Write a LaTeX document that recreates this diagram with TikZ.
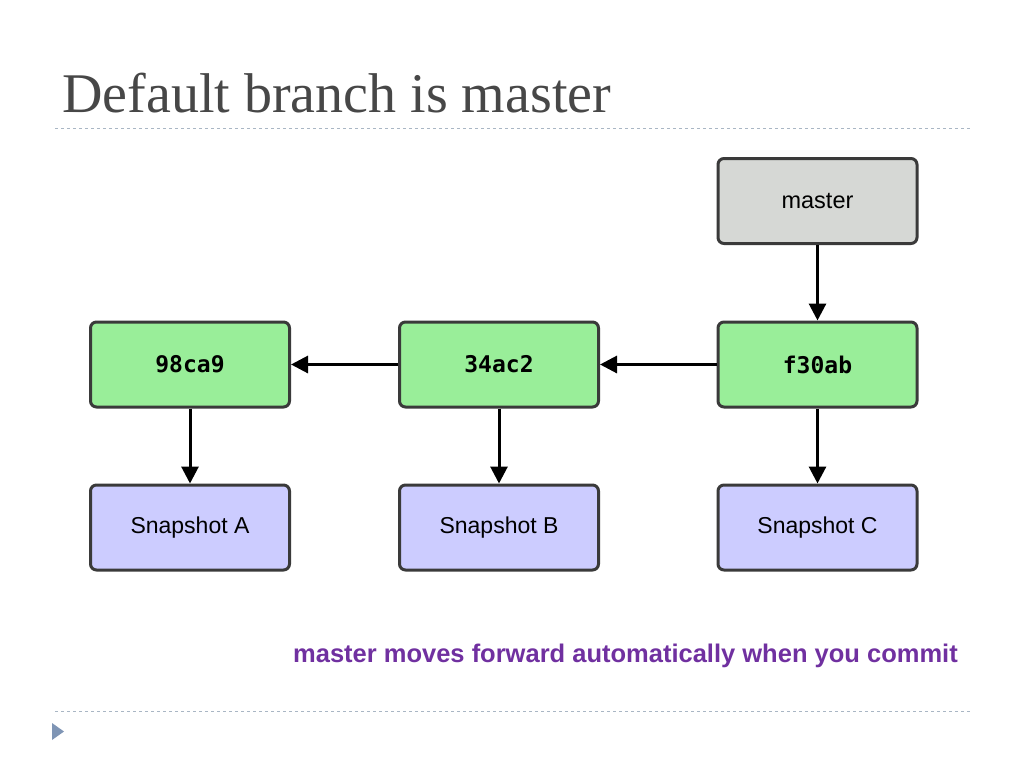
\documentclass[tikz,border=0pt]{standalone}
\usepackage{fontspec}
\setmainfont{Liberation Serif}
\newfontfamily\sansf{Liberation Sans}
\newfontfamily\monof{DejaVu Sans Mono}
\usetikzlibrary{arrows.meta}
\definecolor{gfill}{HTML}{99EE99}
\definecolor{pfill}{HTML}{CCCCFF}
\definecolor{mfill}{HTML}{D6D8D5}
\definecolor{edge}{HTML}{3A3A3A}
\definecolor{rule}{HTML}{A9B6C4}
\definecolor{tri}{HTML}{7F95B5}
\definecolor{cap}{HTML}{7030A0}
\begin{document}
\begin{tikzpicture}[x=1pt,y=-1pt,
  box/.style={draw=edge,line width=3pt,rounded corners=6pt,minimum width=199pt,minimum height=85pt,inner sep=0pt},
  commit/.style={box,fill=gfill,font=\monof\bfseries\fontsize{23}{26}\selectfont},
  snap/.style={box,fill=pfill,font=\sansf\fontsize{23}{26}\selectfont},
  br/.style={box,fill=mfill,font=\sansf\fontsize{23.5}{26}\selectfont},
  arr/.style={line width=3pt,-{Triangle[length=17pt,width=17pt]}}]
\useasboundingbox (0,0) rectangle (1024,768);
\node[anchor=base west,inner sep=0pt,text=black!72,font=\fontsize{56}{62}\selectfont] (title) at (62,112) {Default branch is master};
\draw[rule,dashed,line width=0.8pt] (55,128) -- (972,128);
\draw[rule,dashed,line width=0.8pt] (55,711) -- (972,711);
\fill[tri] (52,723) -- (64,731.5) -- (52,740) -- cycle;
\node[br] (m) at (817.5,201) {master};
\node[commit] (c1) at (190,364.5) {98ca9};
\node[commit] (c2) at (499,364.5) {34ac2};
\node[commit] (c3) at (817.5,364.5) {f30ab};
\node[snap] (s1) at (190,527.5) {Snapshot A};
\node[snap] (s2) at (499,527.5) {Snapshot B};
\node[snap] (s3) at (817.5,527.5) {Snapshot C};
\draw[arr] (m) -- (c3);
\draw[arr] (c3) -- (c2);
\draw[arr] (c2) -- (c1);
\draw[arr] (c1) -- (s1);
\draw[arr] (c2) -- (s2);
\draw[arr] (c3) -- (s3);
\node[anchor=base east,inner sep=0pt,text=cap,font=\sansf\bfseries\fontsize{25.5}{28}\selectfont] (cap) at (958,662) {master moves forward automatically when you commit};
\end{tikzpicture}
\end{document}
